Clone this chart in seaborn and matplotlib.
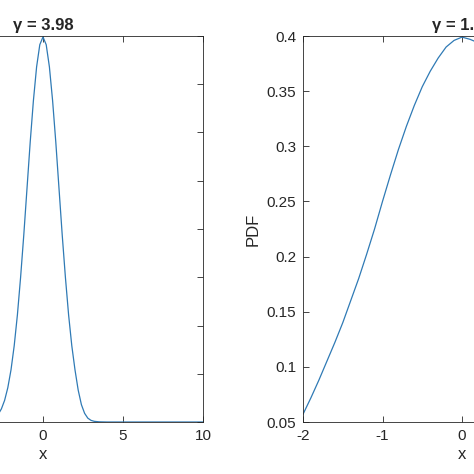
import numpy as np
import pandas as pd
import matplotlib
matplotlib.use("Agg")
import matplotlib.pyplot as plt
import seaborn as sns

# Left panel (gamma = 3.98): values
left_x = [-10, -6, -4, -3.5, -3.2, -3.0, -2.8, -2.6, -2.4, -2.2, -2.0, -1.8, -1.6, -1.4,
          -1.2, -1.0, -0.8, -0.6, -0.4, -0.2, 0.0, 0.2, 0.4, 0.6, 0.8, 1.0, 1.2, 1.4,
          1.6, 1.8, 2.0, 2.2, 2.4, 2.6, 2.8, 3.0, 3.2, 3.5, 4, 6, 10]
left_y = [0.0, 0.0, 0.0, 0.001, 0.0024, 0.0044, 0.0079, 0.0136, 0.0224, 0.0355, 0.054,
          0.079, 0.111, 0.150, 0.194, 0.242, 0.290, 0.333, 0.368, 0.391, 0.399, 0.391,
          0.368, 0.333, 0.290, 0.242, 0.194, 0.150, 0.111, 0.079, 0.054, 0.033, 0.018,
          0.009, 0.004, 0.0017, 0.0007, 0.0002, 0.0, 0.0, 0.0]

# Right panel (gamma = 1.xx)
right_x = [-2.0, -1.9, -1.8, -1.7, -1.6, -1.5, -1.4, -1.3, -1.2, -1.1, -1.0, -0.9, -0.8,
           -0.7, -0.6, -0.5, -0.4, -0.3, -0.2, -0.1, 0.0, 0.1, 0.2]
right_y = [0.057, 0.072, 0.088, 0.105, 0.122, 0.140, 0.160, 0.180, 0.202, 0.225, 0.250,
           0.274, 0.297, 0.318, 0.337, 0.354, 0.368, 0.380, 0.390, 0.396, 0.399, 0.397, 0.394]

sns.set_style("ticks")
plt.rcParams["font.family"] = ["Liberation Sans", "DejaVu Sans"]
plt.rcParams["axes.unicode_minus"] = False
color = "#2f7ab5"

fig = plt.figure(figsize=(4.74, 4.74), dpi=100)
bottom, height = 52 / 474, 386 / 474
ax1 = fig.add_axes([-117 / 474, bottom, 320 / 474, height])
ax2 = fig.add_axes([303 / 474, bottom, 318 / 474, height])

sns.lineplot(data=pd.DataFrame({"x": left_x, "y": left_y}), x="x", y="y", ax=ax1,
             color=color, linewidth=0.9)
sns.lineplot(data=pd.DataFrame({"x": right_x, "y": right_y}), x="x", y="y", ax=ax2,
             color=color, linewidth=0.9)

ax1.set_xlim(-10, 10)
ax1.set_ylim(0, 0.4)
ax1.set_xticks([-10, -5, 0, 5, 10])
ax1.set_yticks(np.arange(0, 0.401, 0.05))
ax1.set_yticklabels([])
ax1.set_title("γ = 3.98", fontweight="bold", fontsize=12, pad=4)
ax1.set_ylabel("")

ax2.set_xlim(-2, 2)
ax2.set_ylim(0.05, 0.4)
ax2.set_xticks([-2, -1, 0, 1, 2])
ax2.set_yticks([0.05, 0.1, 0.15, 0.2, 0.25, 0.3, 0.35, 0.4])
ax2.set_yticklabels(["0.05", "0.1", "0.15", "0.2", "0.25", "0.3", "0.35", "0.4"])
ax2.set_title("γ = 1.00", fontweight="bold", fontsize=12, pad=4)
ax2.set_ylabel("PDF", fontsize=12, labelpad=4)

for ax in (ax1, ax2):
    ax.set_xlabel("x", fontsize=12, labelpad=3)
    ax.tick_params(direction="in", top=True, right=True, labelsize=11, length=4,
                   width=0.6, color="#262626", labelcolor="#262626", pad=5)
    for s in ax.spines.values():
        s.set_linewidth(0.6)
        s.set_color("#262626")

fig.savefig("out.png", dpi=100)
